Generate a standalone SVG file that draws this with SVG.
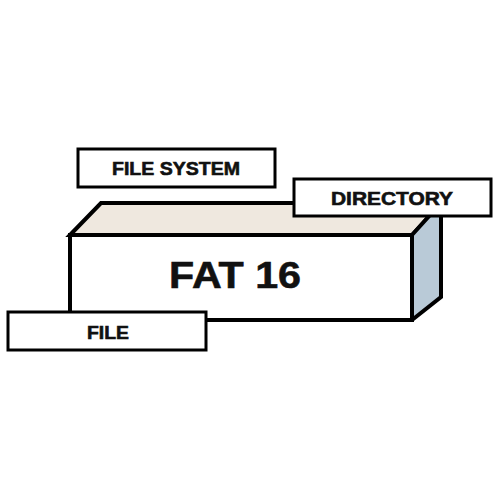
<svg xmlns="http://www.w3.org/2000/svg" width="500" height="500" viewBox="0 0 500 500">
<style>
.edge{stroke:#000;stroke-width:4;stroke-linejoin:miter}
.lbl{fill:#fff;stroke:#000;stroke-width:3}
.t{font-family:"Liberation Sans",Arial,sans-serif;font-weight:bold;fill:#111;stroke:#111;stroke-width:0.6;text-anchor:middle}
</style>
<rect width="500" height="500" fill="#fff"/>
<g id="fat16">
<polygon class="edge" points="70,235 101,203 441,203 412,235" fill="#EFE8DF"/>
<polygon points="412,235 441,203 441,297 412,320" fill="#B9CAD7"/>
<path class="edge" d="M412,235 L441,203 M441,216 L441,297 L412,320" fill="none"/>
<rect class="edge" x="70" y="235" width="342" height="85" fill="#fff"/>
<text class="t" x="235" y="288" font-size="36" stroke-width="1.2" textLength="132" lengthAdjust="spacingAndGlyphs">FAT 16</text>
</g>
<g id="filesystem">
<rect class="lbl" x="78" y="149" width="197" height="38"/>
<text class="t" x="176" y="175" font-size="18" textLength="128" lengthAdjust="spacingAndGlyphs">FILE SYSTEM</text>
</g>
<g id="directory">
<rect class="lbl" x="294" y="179" width="197" height="37"/>
<text class="t" x="392" y="205" font-size="18" textLength="122" lengthAdjust="spacingAndGlyphs">DIRECTORY</text>
</g>
<g id="file">
<rect class="lbl" x="8" y="312" width="198" height="38"/>
<text class="t" x="108" y="339" font-size="18" textLength="42" lengthAdjust="spacingAndGlyphs">FILE</text>
</g>
<g id="connectors"></g>
</svg>
